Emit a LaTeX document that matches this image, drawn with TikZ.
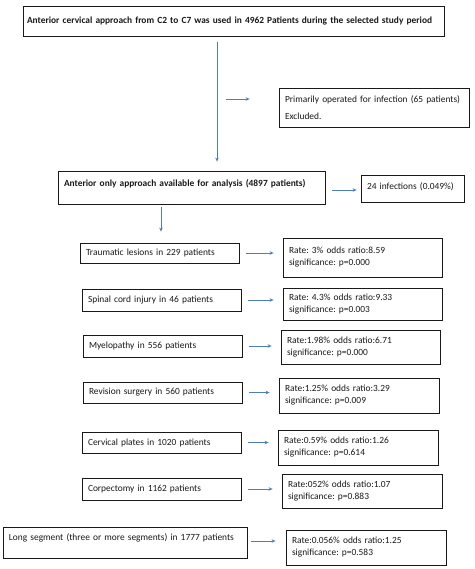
\documentclass[tikz,border=0pt]{standalone}
\usepackage{fontspec}
\setmainfont{Carlito}
\usetikzlibrary{arrows.meta}
\frenchspacing
\definecolor{arrblue}{RGB}{79,125,185}
\definecolor{ink}{RGB}{25,25,25}
\tikzset{
  box/.style={draw=ink, line width=0.8pt, text=ink, inner xsep=6pt, inner ysep=0pt,
     font=\fontsize{9.4}{12}\selectfont, align=left, anchor=center},
  boldtext/.style={font=\bfseries\fontsize{9.4}{12}\selectfont},
  arr/.style={draw=arrblue, line width=0.7pt, -{Stealth[length=4pt,width=3.5pt]}},
}
\newcommand{\bx}[5]{\node[box, minimum width=#3pt, minimum height=#4pt, text width=#3pt-12pt] (#1) at (#2) {#5};}
\begin{document}
\begin{tikzpicture}[x=1pt,y=-1pt]
\useasboundingbox (0,0) rectangle (474,569);
\fill[white] (0,0) rectangle (474,569);
% top part
\node[box, boldtext, minimum width=421pt, minimum height=30pt, text width=413pt, inner xsep=4pt] (top) at (233.5,21) {Anterior cervical approach from C2 to C7 was used in 4962 Patients during the selected study period};
\node[box, minimum width=190pt, minimum height=39pt, text width=178pt] (excl) at (374,107.5) {Primarily operated for infection (65 patients)\\[5pt]Excluded.};
\node[box, boldtext, minimum width=267pt, minimum height=33pt, text width=255pt, text depth=9pt] (anal) at (191.5,187.5) {Anterior only approach available for analysis (4897 patients)};
\node[box, minimum width=103pt, minimum height=27pt, text width=91pt, text depth=5pt] (inf) at (412.5,189) {24 infections (0.049\%)};
% left column
\bx{trau}{159.5,253}{159}{20}{Traumatic lesions in 229 patients}
\bx{spin}{161.5,300}{159}{22}{Spinal cord injury in 46 patients}
\bx{mye}{162.5,346}{159}{22}{Myelopathy in 556 patients}
\bx{rev}{162.5,392.5}{159}{21}{Revision surgery in 560 patients}
\bx{cerv}{161.5,442.5}{159}{21}{Cervical plates in 1020 patients}
\bx{corp}{161.5,489}{159}{22}{Corpectomy in 1162 patients}
\node[box, minimum width=242pt, minimum height=31pt, text width=232pt, text depth=10pt] (long) at (125,542.5) {Long segment (three or more segments) in 1777 patients};
% right column
\bx{r1}{362.5,257.5}{159}{39}{Rate: 3\% odds ratio:8.59\\significance: p=0.000}
\bx{r2}{362.5,304}{159}{32}{Rate: 4.3\% odds ratio:9.33\\significance: p=0.003}
\bx{r3}{360.5,347}{159}{34}{Rate:1.98\% odds ratio:6.71\\significance: p=0.000}
\bx{r4}{359,395.5}{160}{35}{Rate:1.25\% odds ratio:3.29\\significance: p=0.009}
\bx{r5}{358,447.5}{160}{35}{Rate:0.59\% odds ratio:1.26\\significance: p=0.614}
\bx{r6}{362,491}{160}{34}{Rate:052\% odds ratio:1.07\\significance: p=0.883}
\bx{r7}{366,547.5}{160}{35}{Rate:0.056\% odds ratio:1.25\\significance: p=0.583}
% connectors
\coordinate (v1) at (217,36);
\draw[arr, shorten <=6pt, shorten >=9pt] (v1) -- (v1 |- anal.north);
\coordinate (s1) at (226,99);
\draw[arr, shorten >=29pt] (s1) -- (s1 -| excl.west);
\draw[arr, shorten <=7pt, shorten >=4pt] (anal.east |- 0,190) -- (inf.west |- 0,190);
\coordinate (v2) at (161,204);
\draw[arr, shorten <=3pt, shorten >=11pt] (v2) -- (v2 |- trau.north);
\foreach \a/\b in {trau/r1, spin/r2, mye/r3, rev/r4, cerv/r5, corp/r6}
  \draw[arr, shorten <=7pt, shorten >=9pt] (\a.east) -- (\a.east -| \b.west);
\draw[arr, shorten <=4pt, shorten >=10pt] (long.east |- 0,541) -- (r7.west |- 0,541);
\end{tikzpicture}
\end{document}
